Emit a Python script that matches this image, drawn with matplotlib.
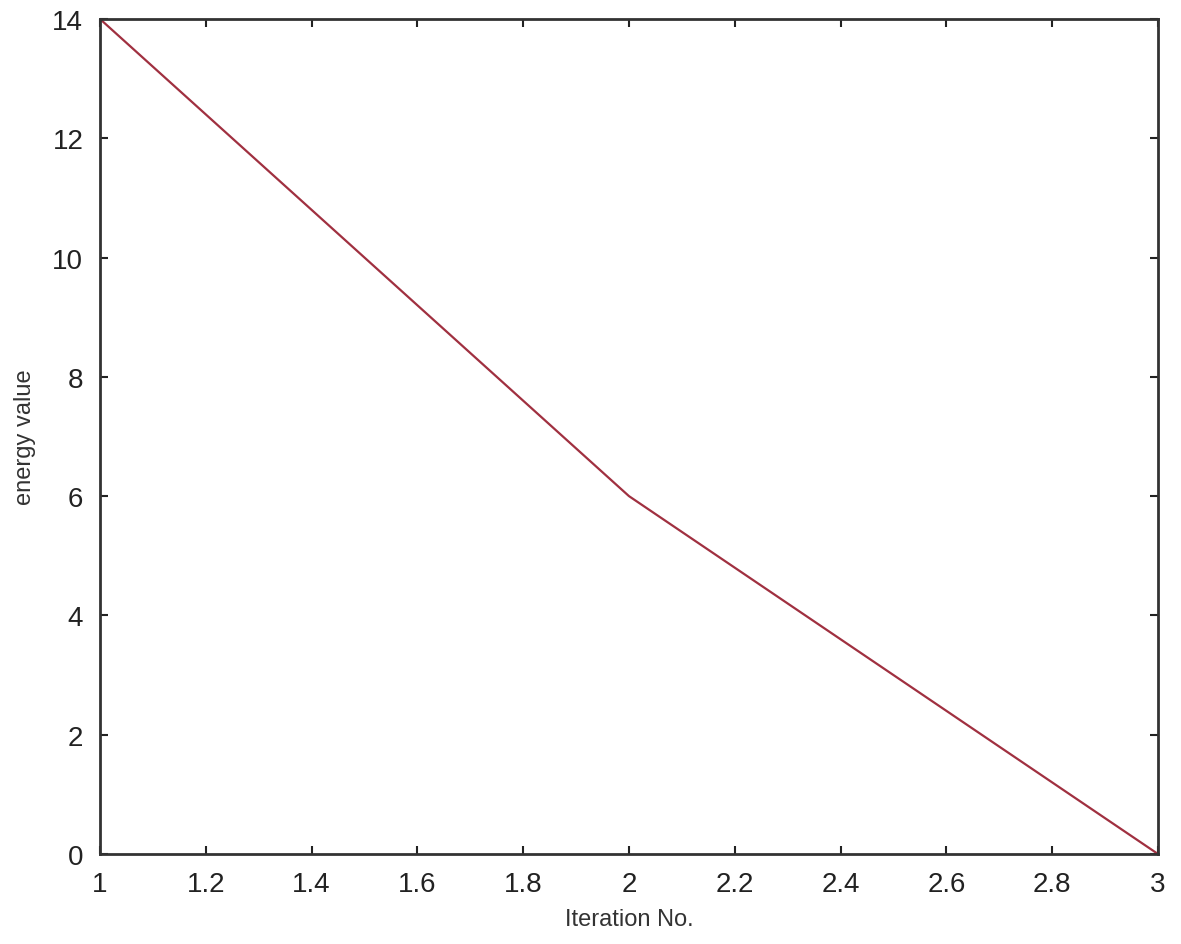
import matplotlib
matplotlib.use("Agg")
import matplotlib.pyplot as plt

iterations = [1, 2, 3]
energy = [14, 6, 0]
xticks = [1, 1.2, 1.4, 1.6, 1.8, 2, 2.2, 2.4, 2.6, 2.8, 3]
xticklabels = ["1", "1.2", "1.4", "1.6", "1.8", "2", "2.2", "2.4", "2.6", "2.8", "3"]
yticks = [0, 2, 4, 6, 8, 10, 12, 14]

plt.rcParams['font.family'] = ['Liberation Sans', 'DejaVu Sans']

fig = plt.figure(figsize=(11.81, 9.45), dpi=100)
ax = fig.add_axes([100 / 1181, 1 - 855 / 945, 1058 / 1181, 835 / 945])

ax.plot(iterations, energy, color='#a03040', linewidth=1.6)

ax.set_xlim(1, 3)
ax.set_ylim(0, 14)
ax.set_xticks(xticks)
ax.set_xticklabels(xticklabels)
ax.set_yticks(yticks)
ax.tick_params(direction='in', length=6, width=1.5, labelsize=20, colors='#222222',
               top=True, right=True, pad=12)
for lbl in ax.get_xticklabels() + ax.get_yticklabels():
    lbl.set_fontweight('medium')
for s in ax.spines.values():
    s.set_linewidth(2)
    s.set_color('#333333')

ax.set_xlabel('Iteration No.', fontsize=17, color='#333333', labelpad=8)
ax.set_ylabel('energy value', fontsize=17, color='#333333', labelpad=12)

fig.savefig('out.png', dpi=100, facecolor='white')
